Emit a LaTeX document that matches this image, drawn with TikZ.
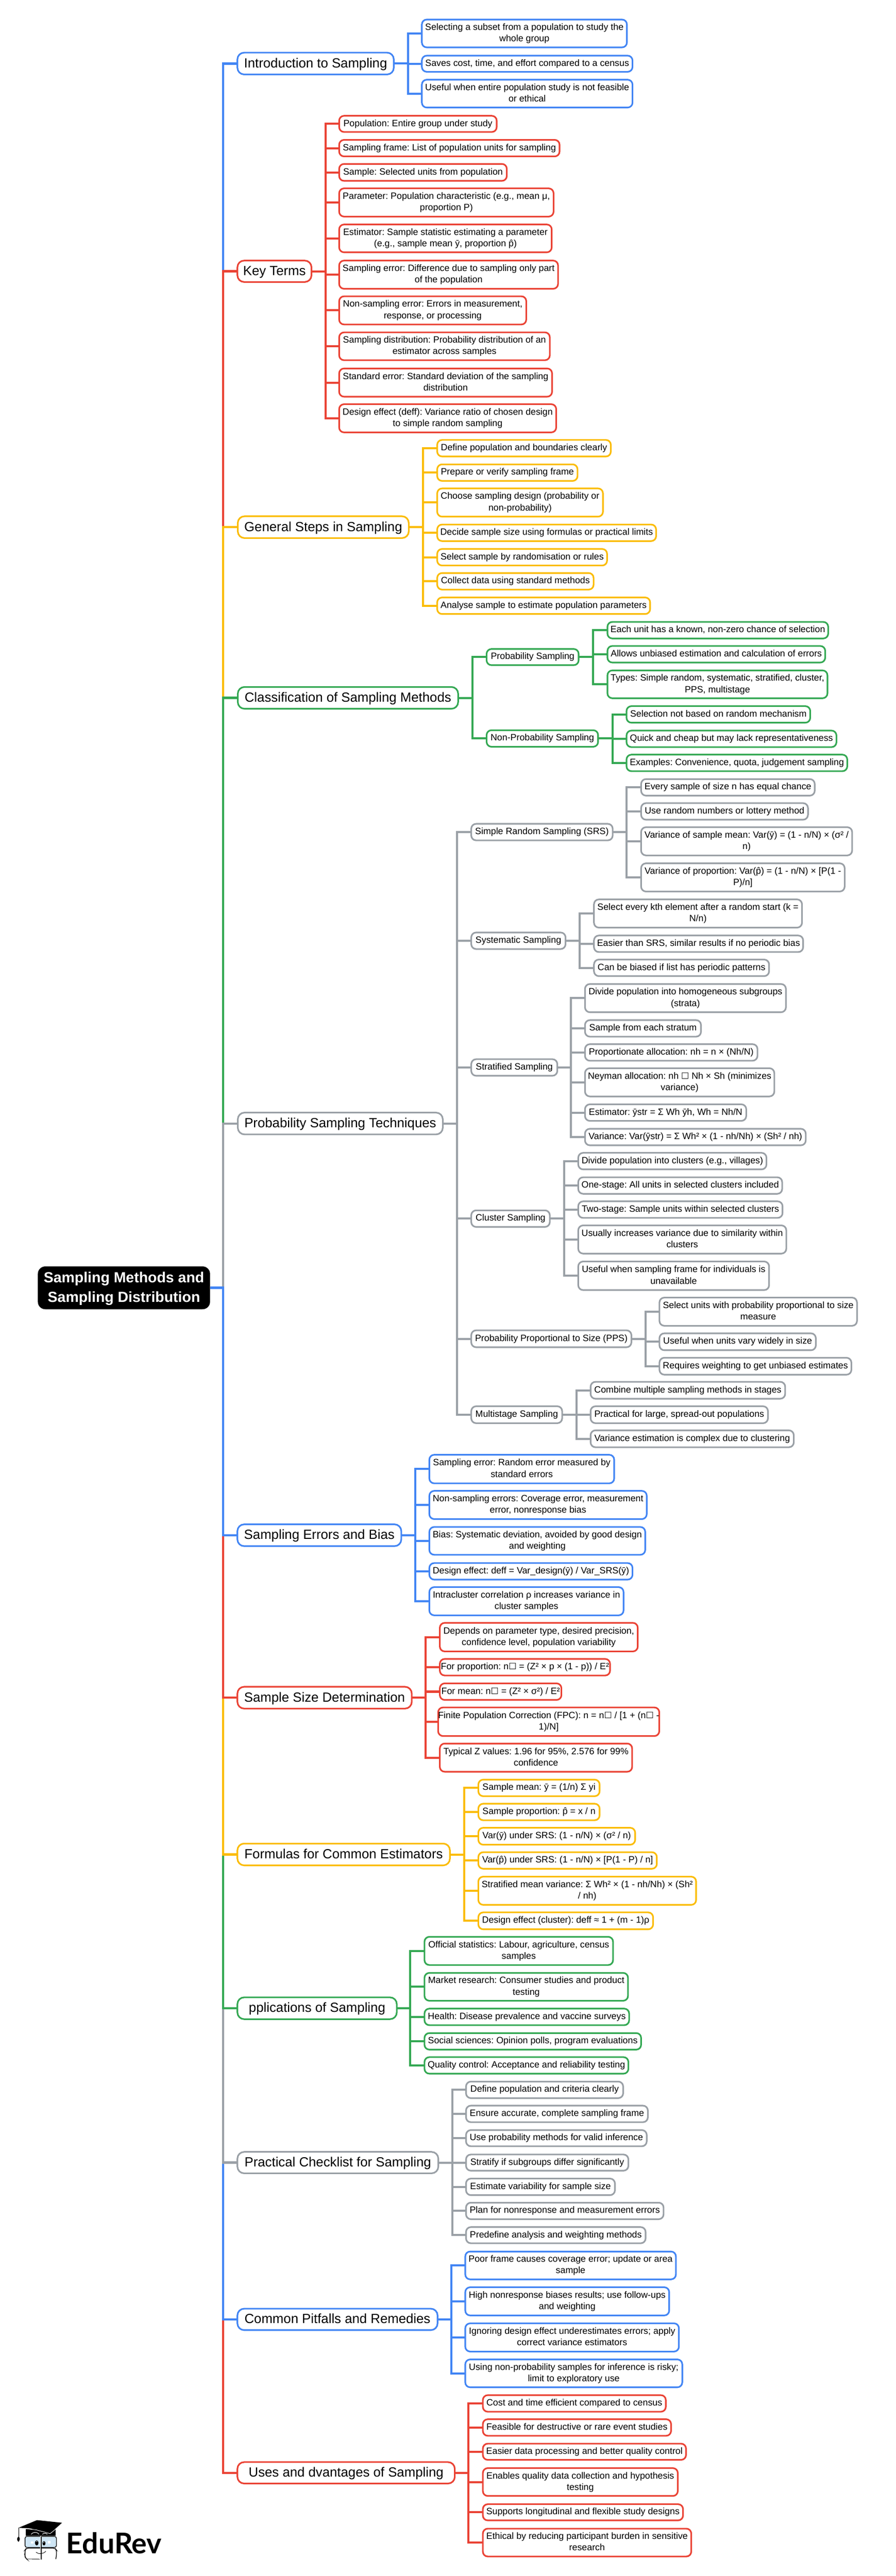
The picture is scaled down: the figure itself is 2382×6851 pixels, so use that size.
\documentclass[tikz,border=0pt]{standalone}
\usepackage{fontspec}
\setmainfont{Liberation Sans}
\newfontfamily\dejavufam{DejaVu Sans}
\newfontfamily\logofam{Lato}
\definecolor{gblue}{HTML}{4285F4}
\definecolor{gred}{HTML}{EA4335}
\definecolor{gyellow}{HTML}{FBBC04}
\definecolor{ggreen}{HTML}{34A853}
\definecolor{ggray}{HTML}{9AA0A6}
\definecolor{glass}{HTML}{CFE6F5}
\newcommand\tofu{\raisebox{2.5pt}{\dejavufam\fontsize{22}{30.6}\selectfont □}}
\newcommand\lstrut{\rule[-9pt]{0pt}{30.6pt}}
\newcommand\hstrut{\rule[-9pt]{0pt}{39.6pt}}
\newcommand\rstrut{\rule[-14pt]{0pt}{52pt}}
\newcommand\tx[1]{(#1-0.005*(#1-500))}
\tikzset{
  boxbase/.style={draw,fill=white,rounded corners=13pt,line width=4.3pt,inner sep=0pt,outer sep=0pt,align=center,text=black},
  leafbox/.style={boxbase,font=\fontsize{24.4}{30.6}\selectfont\frenchspacing},
  headbox/.style={boxbase,font=\fontsize{35.3}{42}\selectfont\frenchspacing,rounded corners=18pt},
  rootbox/.style={fill=black,text=white,rounded corners=20pt,inner sep=0pt,outer sep=0pt,align=center,font=\fontsize{39}{51}\selectfont\bfseries\frenchspacing},
  conn/.style={line width=5.5pt}
}
% name, left, top, right, bottom, colour, text
\newcommand\lf[7]{\node[leafbox,draw=#6,minimum width={(\tx{#4}-\tx{#2})*1pt},minimum height={(#5-#3)*1pt}] (#1) at ({(\tx{#2}+\tx{#4})/2},{(#3+#5)/2}) {\lstrut #7\lstrut};}
\newcommand\hd[7]{\node[headbox,draw=#6,minimum width={(\tx{#4}-\tx{#2})*1pt},minimum height={(#5-#3)*1pt}] (#1) at ({(\tx{#2}+\tx{#4})/2},{(#3+#5)/2}) {\hstrut #7\hstrut};}
% colour, parent, bus x, children
\newcommand\fan[4]{\coordinate (bus) at ({\tx{#3}},0);
  \foreach \ch in {#4}{\draw[conn,#1] (#2.east) -- (#2.east -| bus) -- (\ch.west -| bus) -- (\ch.west);}}
\begin{document}
\begin{tikzpicture}[x=1pt,y=-1pt]
\fill[white] (0,0) rectangle (2382,6851);
\useasboundingbox (0,0) rectangle (2382,6851);
% root
\node[rootbox,minimum width=458pt,minimum height=114pt] (root) at (329.6,3425) {\rstrut Sampling Methods and\\Sampling Distribution\rstrut};
% Introduction
\hd{intro}{632}{140}{1050}{198}{gblue}{Introduction to Sampling}
\lf{a1}{1125}{52}{1673}{126}{gblue}{Selecting a subset from a population to study the\\whole group}
\lf{a2}{1125}{148}{1688}{191}{gblue}{Saves cost, time, and effort compared to a census}
\lf{a3}{1125}{212}{1688}{286}{gblue}{Useful when entire population study is not feasible\\or ethical}
% Key terms
\hd{key}{632}{693}{830}{750}{gred}{Key Terms}
\lf{k1}{904}{308}{1325}{351}{gred}{Population: Entire group under study}
\lf{k2}{904}{372}{1493}{416}{gred}{Sampling frame: List of population units for sampling}
\lf{k3}{904}{436}{1352}{481}{gred}{Sample: Selected units from population}
\lf{k4}{904}{501}{1477}{576}{gred}{Parameter: Population characteristic (e.g., mean μ,\\proportion P)}
\lf{k5}{904}{597}{1472}{671}{gred}{Estimator: Sample statistic estimating a parameter\\(e.g., sample mean ȳ, proportion p̂)}
\lf{k6}{904}{693}{1489}{768}{gred}{Sampling error: Difference due to sampling only part\\of the population}
\lf{k7}{904}{788}{1404}{863}{gred}{Non-sampling error: Errors in measurement,\\response, or processing}
\lf{k8}{904}{884}{1467}{958}{gred}{Sampling distribution: Probability distribution of an\\estimator across samples}
\lf{k9}{904}{980}{1473}{1055}{gred}{Standard error: Standard deviation of the sampling\\distribution}
\lf{k10}{904}{1075}{1484}{1150}{gred}{Design effect (deff): Variance ratio of chosen design\\to simple random sampling}
% General steps
\hd{gen}{633}{1373}{1090}{1431}{gyellow}{General Steps in Sampling}
\lf{g1}{1166}{1170}{1630}{1214}{gyellow}{Define population and boundaries clearly}
\lf{g2}{1166}{1235}{1541}{1279}{gyellow}{Prepare or verify sampling frame}
\lf{g3}{1166}{1299}{1609}{1374}{gyellow}{Choose sampling design (probability or\\non-probability)}
\lf{g4}{1166}{1395}{1751}{1439}{gyellow}{Decide sample size using formulas or practical limits}
\lf{g5}{1166}{1460}{1620}{1504}{gyellow}{Select sample by randomisation or rules}
\lf{g6}{1166}{1524}{1584}{1568}{gyellow}{Collect data using standard methods}
\lf{g7}{1166}{1589}{1735}{1633}{gyellow}{Analyse sample to estimate population parameters}
% Classification
\hd{cls}{633}{1827}{1222}{1885}{ggreen}{Classification of Sampling Methods}
\lf{prob}{1298}{1726}{1544}{1769}{ggreen}{Probability Sampling}
\lf{nonp}{1298}{1942}{1596}{1986}{ggreen}{Non-Probability Sampling}
\lf{p1}{1621}{1654}{2211}{1698}{ggreen}{Each unit has a known, non-zero chance of selection}
\lf{p2}{1621}{1718}{2203}{1762}{ggreen}{Allows unbiased estimation and calculation of errors}
\lf{p3}{1621}{1783}{2209}{1857}{ggreen}{Types: Simple random, systematic, stratified, cluster,\\PPS, multistage}
\lf{n1}{1672}{1878}{2163}{1922}{ggreen}{Selection not based on random mechanism}
\lf{n2}{1672}{1943}{2233}{1987}{ggreen}{Quick and cheap but may lack representativeness}
\lf{n3}{1672}{2007}{2262}{2051}{ggreen}{Examples: Convenience, quota, judgement sampling}
% Probability techniques
\hd{tech}{633}{2959}{1181}{3017}{ggray}{Probability Sampling Techniques}
\lf{srs}{1257}{2191}{1635}{2235}{ggray}{Simple Random Sampling (SRS)}
\lf{s1}{1711}{2072}{2175}{2116}{ggray}{Every sample of size n has equal chance}
\lf{s2}{1711}{2136}{2157}{2180}{ggray}{Use random numbers or lottery method}
\lf{s3}{1711}{2200}{2275}{2275}{ggray}{Variance of sample mean: Var(ȳ) = (1 - n/N) × (σ² /\\n)}
\lf{s4}{1711}{2296}{2255}{2371}{ggray}{Variance of proportion: Var(p̂) = (1 - n/N) × [P(1 -\\P)/n]}
\lf{sys}{1257}{2480}{1509}{2524}{ggray}{Systematic Sampling}
\lf{y1}{1585}{2392}{2141}{2467}{ggray}{Select every kth element after a random start (k =\\N/n)}
\lf{y2}{1585}{2488}{2144}{2532}{ggray}{Easier than SRS, similar results if no periodic bias}
\lf{y3}{1585}{2552}{2053}{2596}{ggray}{Can be biased if list has periodic patterns}
\lf{str}{1257}{2817}{1487}{2861}{ggray}{Stratified Sampling}
\lf{t1}{1561}{2617}{2098}{2692}{ggray}{Divide population into homogeneous subgroups\\(strata)}
\lf{t2}{1561}{2713}{1871}{2757}{ggray}{Sample from each stratum}
\lf{t3}{1561}{2777}{2022}{2821}{ggray}{Proportionate allocation: nh = n × (Nh/N)}
\lf{t4}{1561}{2841}{2067}{2916}{ggray}{Neyman allocation: nh \tofu{} Nh × Sh (minimizes\\variance)}
\lf{t5}{1561}{2937}{1992}{2981}{ggray}{Estimator: ȳstr = Σ Wh ȳh, Wh = Nh/N}
\lf{t6}{1561}{3002}{2151}{3046}{ggray}{Variance: Var(ȳstr) = Σ Wh² × (1 - nh/Nh) × (Sh² / nh)}
\lf{clu}{1257}{3219}{1467}{3263}{ggray}{Cluster Sampling}
\lf{c1}{1543}{3066}{2046}{3110}{ggray}{Divide population into clusters (e.g., villages)}
\lf{c2}{1543}{3131}{2088}{3175}{ggray}{One-stage: All units in selected clusters included}
\lf{c3}{1543}{3195}{2089}{3239}{ggray}{Two-stage: Sample units within selected clusters}
\lf{c4}{1543}{3259}{2099}{3334}{ggray}{Usually increases variance due to similarity within\\clusters}
\lf{c5}{1543}{3355}{2053}{3431}{ggray}{Useful when sampling frame for individuals is\\unavailable}
\lf{pps}{1257}{3538}{1685}{3583}{ggray}{Probability Proportional to Size (PPS)}
\lf{d1}{1760}{3451}{2288}{3526}{ggray}{Select units with probability proportional to size\\measure}
\lf{d2}{1760}{3546}{2178}{3591}{ggray}{Useful when units vary widely in size}
\lf{d3}{1760}{3611}{2273}{3656}{ggray}{Requires weighting to get unbiased estimates}
\lf{mul}{1257}{3740}{1500}{3785}{ggray}{Multistage Sampling}
\lf{m1}{1576}{3675}{2096}{3720}{ggray}{Combine multiple sampling methods in stages}
\lf{m2}{1576}{3740}{2050}{3785}{ggray}{Practical for large, spread-out populations}
\lf{m3}{1576}{3804}{2119}{3849}{ggray}{Variance estimation is complex due to clustering}
% Sampling errors
\hd{se}{632}{4054}{1070}{4112}{gblue}{Sampling Errors and Bias}
\lf{e1}{1145}{3869}{1639}{3945}{gblue}{Sampling error: Random error measured by\\standard errors}
\lf{e2}{1145}{3965}{1726}{4040}{gblue}{Non-sampling errors: Coverage error, measurement\\error, nonresponse bias}
\lf{e3}{1145}{4061}{1722}{4135}{gblue}{Bias: Systematic deviation, avoided by good design\\and weighting}
\lf{e4}{1145}{4157}{1688}{4201}{gblue}{Design effect: deff = Var\_design(ȳ) / Var\_SRS(ȳ)}
\lf{e5}{1145}{4221}{1664}{4296}{gblue}{Intracluster correlation ρ increases variance in\\cluster samples}
% Sample size
\hd{ssd}{632}{4486}{1098}{4544}{gred}{Sample Size Determination}
\lf{z1}{1173}{4316}{1702}{4392}{gred}{Depends on parameter type, desired precision,\\confidence level, population variability}
\lf{z2}{1173}{4412}{1628}{4456}{gred}{For proportion: n\tofu{} = (Z² × p × (1 - p)) / E²}
\lf{z3}{1173}{4477}{1498}{4521}{gred}{For mean: n\tofu{} = (Z² × σ²) / E²}
\lf{z4}{1173}{4541}{1755}{4617}{gred}{Finite Population Correction (FPC): n = n\tofu{} / [1 + (n\tofu{} -\\1)/N]}
\lf{z5}{1173}{4637}{1687}{4712}{gred}{Typical Z values: 1.96 for 95\%, 2.576 for 99\%\\confidence}
% Formulas
\hd{frm}{632}{4903}{1200}{4961}{gyellow}{Formulas for Common Estimators}
\lf{f1}{1276}{4733}{1600}{4777}{gyellow}{Sample mean: ȳ = (1/n) Σ yi}
\lf{f2}{1276}{4797}{1600}{4841}{gyellow}{Sample proportion: p̂ = x / n}
\lf{f3}{1276}{4861}{1695}{4906}{gyellow}{Var(ȳ) under SRS: (1 - n/N) × (σ² / n)}
\lf{f4}{1276}{4926}{1753}{4970}{gyellow}{Var(p̂) under SRS: (1 - n/N) × [P(1 - P) / n]}
\lf{f5}{1276}{4991}{1858}{5066}{gyellow}{Stratified mean variance: Σ Wh² × (1 - nh/Nh) × (Sh²\\/ nh)}
\lf{f6}{1276}{5086}{1743}{5131}{gyellow}{Design effect (cluster): deff ≈ 1 + (m - 1)ρ}
% Applications
\hd{app}{632}{5312}{1058}{5370}{ggreen}{pplications of Sampling}
\lf{l1}{1132}{5151}{1636}{5226}{ggreen}{Official statistics: Labour, agriculture, census\\samples}
\lf{l2}{1132}{5247}{1676}{5321}{ggreen}{Market research: Consumer studies and product\\testing}
\lf{l3}{1132}{5342}{1679}{5386}{ggreen}{Health: Disease prevalence and vaccine surveys}
\lf{l4}{1132}{5407}{1711}{5451}{ggreen}{Social sciences: Opinion polls, program evaluations}
\lf{l5}{1132}{5471}{1677}{5515}{ggreen}{Quality control: Acceptance and reliability testing}
% Checklist
\hd{chk}{632}{5723}{1169}{5780}{ggray}{Practical Checklist for Sampling}
\lf{h1}{1243}{5536}{1663}{5580}{ggray}{Define population and criteria clearly}
\lf{h2}{1243}{5600}{1729}{5644}{ggray}{Ensure accurate, complete sampling frame}
\lf{h3}{1243}{5665}{1726}{5708}{ggray}{Use probability methods for valid inference}
\lf{h4}{1243}{5730}{1677}{5773}{ggray}{Stratify if subgroups differ significantly}
\lf{h5}{1243}{5794}{1641}{5838}{ggray}{Estimate variability for sample size}
\lf{h6}{1243}{5858}{1771}{5902}{ggray}{Plan for nonresponse and measurement errors}
\lf{h7}{1243}{5923}{1723}{5966}{ggray}{Predefine analysis and weighting methods}
% Pitfalls
\hd{pit}{632}{6140}{1167}{6197}{gblue}{Common Pitfalls and Remedies}
\lf{q1}{1241}{5988}{1804}{6062}{gblue}{Poor frame causes coverage error; update or area\\sample}
\lf{q2}{1241}{6083}{1786}{6158}{gblue}{High nonresponse biases results; use follow-ups\\and weighting}
\lf{q3}{1241}{6179}{1812}{6254}{gblue}{Ignoring design effect underestimates errors; apply\\correct variance estimators}
\lf{q4}{1241}{6275}{1821}{6349}{gblue}{Using non-probability samples for inference is risky;\\limit to exploratory use}
% Uses
\hd{use}{632}{6548}{1213}{6605}{gred}{Uses and dvantages of Sampling}
\lf{u1}{1288}{6370}{1777}{6414}{gred}{Cost and time efficient compared to census}
\lf{u2}{1288}{6434}{1791}{6478}{gred}{Feasible for destructive or rare event studies}
\lf{u3}{1288}{6499}{1831}{6542}{gred}{Easier data processing and better quality control}
\lf{u4}{1288}{6564}{1809}{6638}{gred}{Enables quality data collection and hypothesis\\testing}
\lf{u5}{1288}{6660}{1823}{6703}{gred}{Supports longitudinal and flexible study designs}
\lf{u6}{1288}{6725}{1845}{6799}{gred}{Ethical by reducing participant burden in sensitive\\research}
% sub-level connectors
\fan{gblue}{intro}{1087.5}{a1,a2,a3}
\fan{gred}{key}{867.5}{k1,k2,k3,k4,k5,k6,k7,k8,k9,k10}
\fan{gyellow}{gen}{1128}{g1,g2,g3,g4,g5,g6,g7}
\fan{ggreen}{cls}{1260}{prob,nonp}
\fan{ggreen}{prob}{1582}{p1,p2,p3}
\fan{ggreen}{nonp}{1635}{n1,n2,n3}
\fan{ggray}{tech}{1219}{srs,sys,str,clu,pps,mul}
\fan{ggray}{srs}{1672}{s1,s2,s3,s4}
\fan{ggray}{sys}{1546.5}{y1,y2,y3}
\fan{ggray}{str}{1523.5}{t1,t2,t3,t4,t5,t6}
\fan{ggray}{clu}{1505}{c1,c2,c3,c4,c5}
\fan{ggray}{pps}{1723}{d1,d2,d3}
\fan{ggray}{mul}{1538.5}{m1,m2,m3}
\fan{gblue}{se}{1107}{e1,e2,e3,e4,e5}
\fan{gred}{ssd}{1134.5}{z1,z2,z3,z4,z5}
\fan{gyellow}{frm}{1238}{f1,f2,f3,f4,f5,f6}
\fan{ggreen}{app}{1094}{l1,l2,l3,l4,l5}
\fan{ggray}{chk}{1206.5}{h1,h2,h3,h4,h5,h6,h7}
\fan{gblue}{pit}{1204}{q1,q2,q3,q4}
\fan{gred}{use}{1249.5}{u1,u2,u3,u4,u5,u6}
% trunk: farthest branches first, nearer ones on top
\coordinate (trunk) at (593.7,0);
\foreach \cl/\hh in {gblue/intro,gred/key,gyellow/gen,ggreen/cls,ggray/tech,gred/use,gblue/pit,ggray/chk,ggreen/app,gyellow/frm,gred/ssd,gblue/se}{
  \draw[line width=6pt,\cl] (root.east) -- (root.east -| trunk) -- (\hh.west -| trunk) -- (\hh.west);
}
% logo
\begin{scope}[shift={(0,6600)},x=0.3333pt,y=-0.3333pt]
  \fill[black] (205,378) -- (445,378) -- (445,432) -- (205,432) -- cycle;
  \fill[black] (148,368) -- (295,307) -- (495,328) -- (400,413) -- (240,373) -- cycle;
  \draw[white,line width=1.2pt] (205,375) -- (290,385) -- (400,415) -- (445,378);
  \draw[white,line width=1.3pt] (248,420) .. controls (265,400) and (295,398) .. (312,420);
  \draw[white,line width=1.3pt] (338,420) .. controls (350,410) and (365,410) .. (378,420);
  \draw[black,line width=1pt] (148,368) -- (148,440);
  \fill[black] (148,437) .. controls (138,445) and (133,458) .. (137,465) -- (148,482) -- (158,462) .. controls (162,452) and (155,445) .. (148,437) -- cycle;
  \draw[black,fill=glass,line width=1.8pt,rounded corners=5pt] (200,437) rectangle (450,525);
  \draw[black,line width=1.8pt,rounded corners=5pt] (212,617) -- (203,610) -- (200,595) -- (200,545) -- (210,531) -- (440,531) -- (450,545) -- (450,595) -- (445,618);
  \draw[black,line width=1.2pt] (212,617) -- (318,618);
  \fill[white] (320,432) rectangle (334,622);
  \fill[black] (323,436) rectangle (332,622);
  \fill[black] (293,489) ellipse [x radius=14,y radius=20];
  \fill[black] (351,492) ellipse [x radius=12,y radius=17];
  \fill[white] (294,478) circle (4);
  \fill[white] (349,485) circle (4);
  \fill[white] (246,477) rectangle (266,494);
  \fill[white] (384,475) rectangle (404,494);
  \draw[black,line width=1.2pt] (287,563) .. controls (310,582) and (345,578) .. (366,555);
  \node[inner sep=0pt,anchor=base west,text=black,font={\logofam\fontsize{76}{80}\selectfont\bfseries}] (brand) at (529,573) {EduRev};
\end{scope}
\end{tikzpicture}
\end{document}
